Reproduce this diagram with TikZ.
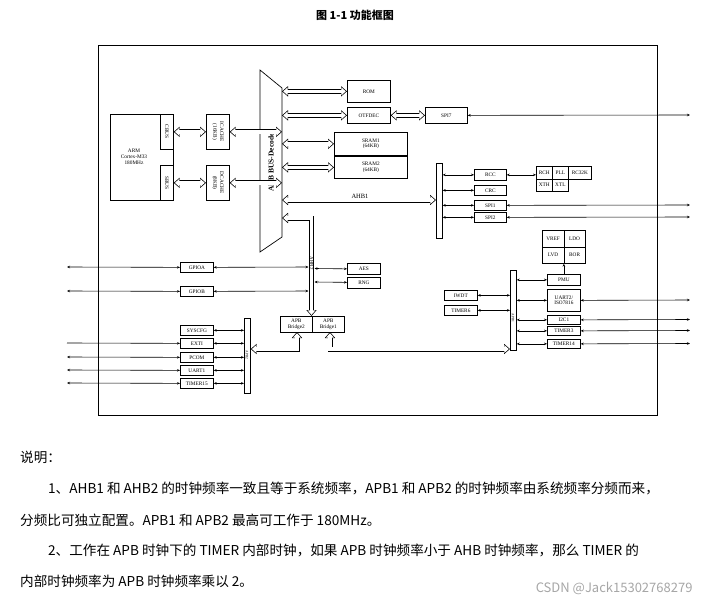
\documentclass[tikz,border=0pt]{standalone}
\usepackage{fontspec}
\setmainfont{Liberation Serif}
\newfontfamily\cjk{Noto Sans CJK SC}
\usetikzlibrary{arrows.meta}
\begin{document}
\begin{tikzpicture}[x=1pt,y=-1pt,
  box/.style={draw,line width=0.7pt,inner sep=0pt,font=\fontsize{5.3}{5.8}\selectfont,align=center},
  bar/.style={draw,line width=0.7pt,inner sep=0pt,minimum width=6pt},
  bi/.style={line width=0.6pt,{Stealth[length=3pt,width=2.5pt]}-{Stealth[length=3pt,width=2.5pt]}},
  uni/.style={line width=0.6pt,-{Stealth[length=3pt,width=2.5pt]}},
  bus/.style={draw,line width=5pt,line join=miter,{Triangle[length=6pt,width=10pt]}-{Triangle[length=6pt,width=10pt]},
     postaction={draw=white,line width=3.4pt,shorten <=1.2pt,shorten >=1.2pt,{Triangle[length=4.4pt,width=7.6pt]}-{Triangle[length=4.4pt,width=7.6pt]}}},
  body/.style={anchor=west,font=\cjk\fontsize{13.6}{15}\selectfont,inner sep=0pt}]
\useasboundingbox (0,0) rectangle (710,605);
\node[font=\cjk\bfseries\fontsize{11}{12}\selectfont] (title) at (355,15) {图 1-1 功能框图};
\draw[line width=0.7pt] (98,45) rectangle (657,415);
% CPU
\node[box,minimum width=63pt,minimum height=86pt,anchor=north west] (arm) at (110,114) {};
\node[box,draw=none,anchor=center] (armt) at (134,157) {ARM\\Cortex-M33\\180MHz};
\node[box,minimum width=13pt,minimum height=35pt,anchor=north west] (cbus) at (160,114) {\rotatebox{-90}{CBUS}};
\node[box,minimum width=13pt,minimum height=35pt,anchor=north west] (sbus) at (160,165) {\rotatebox{-90}{SBUS}};
\node[box,minimum width=23pt,minimum height=35pt,anchor=north west] (icache) at (206,114) {\rotatebox{-90}{\shortstack{ICACHE\\(16KB)}}};
\node[box,minimum width=23pt,minimum height=35pt,anchor=north west] (dcache) at (206,165) {\rotatebox{-90}{\shortstack{DCACHE\\(8KB)}}};
% decoder
\draw[line width=0.7pt] (260,70) -- (282,88) -- (282,237) -- (260,252) -- cycle;
\node[font=\bfseries\fontsize{7.5}{8}\selectfont,rotate=90,inner sep=0pt] (dec) at (271,161) {AHB BUS-Decoder};
\coordinate (decr) at (282,100);
\draw[bus] (cbus.east) -- (icache.west);
\draw[bus] (sbus.east) -- (dcache.west);
\draw[bus] (icache.east) -- (icache.east -| decr);
\draw[bus] (dcache.east) -- (dcache.east -| decr);
% memories
\node[box,minimum width=43pt,minimum height=22pt,anchor=north west] (rom) at (347,80) {ROM};
\node[box,minimum width=43pt,minimum height=16pt,anchor=north west] (otf) at (347,107) {OTFDEC};
\node[box,minimum width=42pt,minimum height=16pt,anchor=north west] (spi7) at (425,107) {SPI7};
\node[box,minimum width=73pt,minimum height=23pt,anchor=north west] (sram1) at (334,132) {SRAM1\\(64KB)};
\node[box,minimum width=73pt,minimum height=22pt,anchor=north west] (sram2) at (334,156) {SRAM2\\(64KB)};
\draw[bus] (rom.west -| decr) -- (rom.west);
\draw[bus] (otf.west -| decr) -- (otf.west);
\draw[bus] (otf.east) -- (spi7.west);
\draw[bi] (spi7.east) -- (690,115) coordinate (o7);
\draw[bus] (sram1.west -| decr) -- (sram1.west);
\draw[bus] (sram2.west -| decr) -- (sram2.west);
% AHB1
\node[bar,minimum height=75pt,anchor=north west] (ahb1) at (436,163) {};
\draw[bus] (282,200) -- (ahb1.west |- 0,200);
\node[font=\fontsize{6.5}{6.5}\selectfont] (ahb1l) at (360,196) {AHB1};
\node[box,minimum width=32pt,minimum height=11pt,anchor=north west] (rcc) at (474,169) {RCC};
\node[box,minimum width=32pt,minimum height=10pt,anchor=north west] (crc) at (474,185) {CRC};
\node[box,minimum width=32pt,minimum height=10pt,anchor=north west] (spi1) at (474,200) {SPI1};
\node[box,minimum width=32pt,minimum height=10pt,anchor=north west] (spi2) at (474,212) {SPI2};
\foreach \n in {rcc,crc,spi1,spi2} \draw[bi] (\n.west -| ahb1.east) -- (\n.west);
\draw[bi] (spi1.east) -- (690,205) coordinate (o1);
\draw[bi] (spi2.east) -- (690,217) coordinate (o2);
\node[box,minimum width=16pt,minimum height=12.5pt,anchor=north west] (rch) at (536,166) {RCH};
\node[box,minimum width=16pt,minimum height=12.5pt,anchor=north west] (pll) at (552,166) {PLL};
\node[box,minimum width=23pt,minimum height=12.5pt,anchor=north west] (rc32) at (568,166) {RC32K};
\node[box,minimum width=16pt,minimum height=12.5pt,anchor=north west] (xth) at (536,178.5) {XTH};
\node[box,minimum width=16pt,minimum height=12.5pt,anchor=north west] (xtl) at (552,178.5) {XTL};
\draw[bi] (rcc.east) -- (rch.west |- rcc.east);
% power
\node[box,minimum width=21.5pt,minimum height=16.5pt,anchor=north west] (vref) at (542,230) {VREF};
\node[box,minimum width=21.5pt,minimum height=16.5pt,anchor=north west] (ldo) at (563.5,230) {LDO};
\node[box,minimum width=21.5pt,minimum height=16.5pt,anchor=north west] (lvd) at (542,246.5) {LVD};
\node[box,minimum width=21.5pt,minimum height=16.5pt,anchor=north west] (bor) at (563.5,246.5) {BOR};
\node[box,minimum width=33pt,minimum height=11pt,anchor=north west] (pmu) at (547,274) {PMU};
\draw[uni] (pmu.north) -- (pmu.north |- bor.south);
% APB1
\node[bar,minimum height=80pt,anchor=north west] (apb1) at (510,270) {};
\node[font=\fontsize{3.5}{4}\selectfont,rotate=-90] (apb1l) at (513,318) {APB1};
\node[box,minimum width=33pt,minimum height=10pt,anchor=north west] (iwdt) at (444,290) {IWDT};
\node[box,minimum width=33pt,minimum height=10pt,anchor=north west] (tim6) at (444,305) {TIMER6};
\node[box,minimum width=33pt,minimum height=22pt,anchor=north west] (uart2) at (547,289) {UART2/\\ISO7816};
\node[box,minimum width=33pt,minimum height=9pt,anchor=north west] (i2c1) at (547,315) {I2C1};
\node[box,minimum width=33pt,minimum height=9pt,anchor=north west] (tim3) at (547,326) {TIMER3};
\node[box,minimum width=33pt,minimum height=9pt,anchor=north west] (tim14) at (547,339) {TIMER14};
\draw[bi] (iwdt.east) -- (iwdt.east -| apb1.west);
\draw[bi] (tim6.east) -- (tim6.east -| apb1.west);
\foreach \n in {pmu,uart2,i2c1,tim3,tim14} \draw[bi] (\n.west -| apb1.east) -- (\n.west);
\foreach \n/\y in {uart2/300,i2c1/319.5,tim3/330.5,tim14/343.5} \draw[bi] (\n.east) -- (690,\y);
% AHB2
\coordinate (a2top) at (311.5,218);
\draw[bus] (282,218) -- (a2top) -- (311.5,316);
\node[font=\fontsize{5}{5}\selectfont,rotate=-90,inner sep=0.3pt] (ahb2l) at (311.5,263) {AHB2};
\node[box,minimum width=33pt,minimum height=10pt,anchor=north west] (gpioa) at (180,262) {GPIOA};
\node[box,minimum width=33pt,minimum height=10pt,anchor=north west] (gpiob) at (180,286) {GPIOB};
\node[box,minimum width=33pt,minimum height=11pt,anchor=north west] (aes) at (347,263) {AES};
\node[box,minimum width=33pt,minimum height=11pt,anchor=north west] (rng) at (347,276.5) {RNG};
\draw[bi] (67,267) -- (gpioa.west);
\draw[bi] (67,291) -- (gpiob.west);
\draw[bi] (gpioa.east) -- (308.5,267);
\draw[bi] (gpiob.east) -- (308.5,291);
\draw[bi] (314.5,268.5) -- (aes.west);
\draw[bi] (314.5,282) -- (rng.west);
% bridges
\node[box,minimum width=32pt,minimum height=16pt,anchor=north west] (br2) at (280,316) {APB\\Bridge2};
\node[box,minimum width=32pt,minimum height=16pt,anchor=north west] (br1) at (312,316) {APB\\Bridge1};
% APB2
\node[bar,minimum height=75pt,anchor=north west] (apb2) at (244,318) {};
\node[font=\fontsize{3.5}{4}\selectfont,rotate=-90] (apb2l) at (247,355) {APB2};
\draw[bus] (297,332) -- (297,349) -- (apb2.east |- 0,349);
\draw[bus] (330,332) -- (330,349) -- (apb1.west |- 0,349);
\node[box,minimum width=33pt,minimum height=10pt,anchor=north west] (syscfg) at (180,325) {SYSCFG};
\node[box,minimum width=33pt,minimum height=10pt,anchor=north west] (exti) at (180,338) {EXTI};
\node[box,minimum width=33pt,minimum height=10pt,anchor=north west] (pcom) at (180,352) {PCOM};
\node[box,minimum width=33pt,minimum height=10pt,anchor=north west] (uart1) at (180,365) {UART1};
\node[box,minimum width=33pt,minimum height=10pt,anchor=north west] (tim15) at (180,378) {TIMER15};
\foreach \n in {syscfg,exti,pcom,uart1,tim15} \draw[bi] (\n.east) -- (\n.east -| apb2.west);
\draw[uni] (67,343) -- (exti.west);
\foreach \n/\y in {pcom/357,uart1/370,tim15/383} \draw[bi] (67,\y) -- (\n.west);
% text
\node[body] (t0) at (20,457) {说明：};
\node[body] (t1) at (48,488) {1、AHB1 和 AHB2 的时钟频率一致且等于系统频率，APB1 和 APB2 的时钟频率由系统频率分频而来，};
\node[body] (t2) at (20,520) {分频比可独立配置。APB1 和 APB2 最高可工作于 180MHz。};
\node[body] (t3) at (48,550) {2、工作在 APB 时钟下的 TIMER 内部时钟，如果 APB 时钟频率小于 AHB 时钟频率，那么 TIMER 的};
\node[body] (t4) at (20,581) {内部时钟频率为 APB 时钟频率乘以 2。};
\node[anchor=east,font=\cjk\fontsize{13}{15}\selectfont,text=gray!70] (wm) at (696,588) {CSDN @Jack15302768279};
\end{tikzpicture}
\end{document}
